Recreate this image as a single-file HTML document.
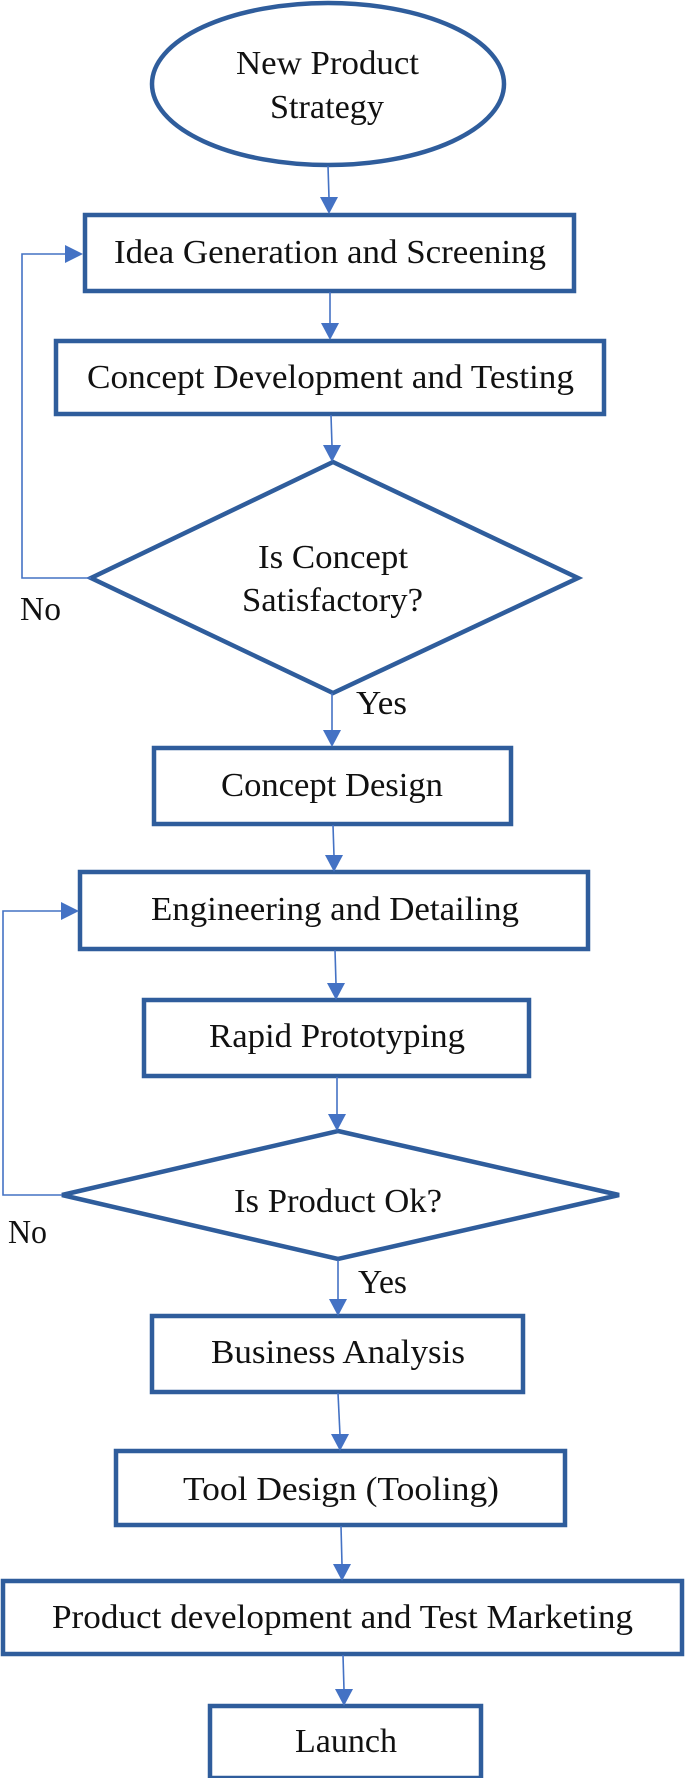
<!DOCTYPE html>
<html><head><meta charset="utf-8"><style>
html,body{margin:0;padding:0;background:#fff;}
svg{display:block;}
text{font-family:"Liberation Serif",serif;font-size:34px;fill:#111;}
</style></head><body>
<svg width="685" height="1778" viewBox="0 0 685 1778" xmlns="http://www.w3.org/2000/svg">
<g fill="none" stroke="#2f5d9c" stroke-width="4.5">
<ellipse cx="328" cy="84" rx="176" ry="81"/>
<rect x="85" y="215" width="489" height="76"/>
<rect x="56" y="341" width="548" height="73"/>
<polygon points="333,462 578,578 333,693 91,578"/>
<rect x="154" y="748" width="357" height="76"/>
<rect x="80" y="872" width="508" height="77"/>
<rect x="144" y="1000" width="385" height="76"/>
<polygon points="338,1131 619,1195 338,1259 62,1195"/>
<rect x="152" y="1316" width="371" height="76"/>
<rect x="116" y="1451" width="449" height="74"/>
<rect x="3" y="1581" width="679" height="73"/>
<rect x="210" y="1706" width="271" height="72"/>
</g>
<g stroke="#4472c4" stroke-width="1.6" fill="none">
<line x1="328" y1="166" x2="329" y2="198"/>
<line x1="330" y1="292" x2="330" y2="324"/>
<line x1="331" y1="415" x2="332" y2="446"/>
<line x1="332" y1="693" x2="332" y2="731"/>
<line x1="333" y1="825" x2="334" y2="856"/>
<line x1="335" y1="950" x2="336" y2="984"/>
<line x1="337" y1="1077" x2="337" y2="1115"/>
<line x1="338" y1="1260" x2="338" y2="1300"/>
<line x1="338" y1="1393" x2="340" y2="1435"/>
<line x1="341" y1="1526" x2="342" y2="1565"/>
<line x1="343" y1="1655" x2="344" y2="1690"/>
<polyline points="91,578 22,578 22,254 66,254"/>
<polyline points="62,1195 3,1195 3,911 62,911"/>
</g>
<g fill="#4472c4">
<polygon points="320,197 338,197 329,214"/>
<polygon points="321,323 339,323 330,340"/>
<polygon points="323,445 341,445 332,462"/>
<polygon points="323,730 341,730 332,747"/>
<polygon points="325,855 343,855 334,872"/>
<polygon points="327,983 345,983 336,1000"/>
<polygon points="328,1114 346,1114 337,1131"/>
<polygon points="329,1299 347,1299 338,1316"/>
<polygon points="331,1434 349,1434 340,1451"/>
<polygon points="333,1564 351,1564 342,1581"/>
<polygon points="335,1689 353,1689 344,1706"/>
<polygon points="65,245 65,263 83,254"/>
<polygon points="61,902 61,920 79,911"/>
</g>
<text x="236" y="74" textLength="183" lengthAdjust="spacingAndGlyphs">New Product</text>
<text x="270" y="118" textLength="114" lengthAdjust="spacingAndGlyphs">Strategy</text>
<text x="114" y="263" textLength="432" lengthAdjust="spacingAndGlyphs">Idea Generation and Screening</text>
<text x="87" y="388" textLength="487" lengthAdjust="spacingAndGlyphs">Concept Development and Testing</text>
<text x="258" y="568" textLength="150" lengthAdjust="spacingAndGlyphs">Is Concept</text>
<text x="242" y="611" textLength="181" lengthAdjust="spacingAndGlyphs">Satisfactory?</text>
<text x="20" y="620" textLength="41" lengthAdjust="spacingAndGlyphs">No</text>
<text x="356" y="714" textLength="51" lengthAdjust="spacingAndGlyphs">Yes</text>
<text x="221" y="796" textLength="222" lengthAdjust="spacingAndGlyphs">Concept Design</text>
<text x="151" y="920" textLength="368" lengthAdjust="spacingAndGlyphs">Engineering and Detailing</text>
<text x="209" y="1047" textLength="256" lengthAdjust="spacingAndGlyphs">Rapid Prototyping</text>
<text x="234" y="1212" textLength="208" lengthAdjust="spacingAndGlyphs">Is Product Ok?</text>
<text x="8" y="1243" textLength="39" lengthAdjust="spacingAndGlyphs">No</text>
<text x="358" y="1293" textLength="49" lengthAdjust="spacingAndGlyphs">Yes</text>
<text x="211" y="1363" textLength="254" lengthAdjust="spacingAndGlyphs">Business Analysis</text>
<text x="183" y="1500" textLength="316" lengthAdjust="spacingAndGlyphs">Tool Design (Tooling)</text>
<text x="52" y="1628" textLength="581" lengthAdjust="spacingAndGlyphs">Product development and Test Marketing</text>
<text x="295" y="1752" textLength="102" lengthAdjust="spacingAndGlyphs">Launch</text>
</svg>
</body></html>
